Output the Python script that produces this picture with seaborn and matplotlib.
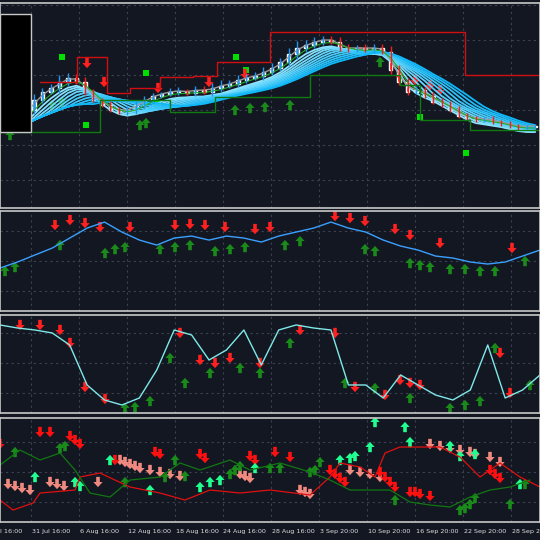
import numpy as np
import pandas as pd
import matplotlib
matplotlib.use("Agg")
import matplotlib.pyplot as plt
from matplotlib.path import Path
import seaborn as sns

sns.set_theme(style="dark")
plt.rcParams['font.family'] = ['DejaVu Sans']

BG = '#131722'
# ---------------- data ----------------
closes = [75, 78, 82, 90, 100, 108, 112, 118, 122, 118, 108, 100, 95, 90, 88, 90,
          95, 100, 104, 106, 108, 108, 107, 110, 108, 112, 114, 116, 120, 122, 124, 128,
          132, 138, 146, 152, 155, 158, 160, 158, 152, 150, 152, 150, 152, 148, 130, 118,
          108, 110, 104, 98, 96, 90, 84, 82, 80, 80, 78, 76, 74, 72, 73, 74]
wicks = [4, 6, 5, 8, 10, 7, 6, 12, 9, 6, 8, 5, 4, 6, 5, 7,
         9, 6, 5, 4, 6, 8, 5, 7, 6, 9, 10, 6, 8, 7, 6, 9,
         8, 7, 10, 12, 9, 8, 7, 6, 8, 6, 5, 6, 7, 6, 10, 8,
         7, 6, 5, 6, 7, 5, 6, 5, 4, 5, 6, 4, 5, 4, 3, 4]
red_step_x = [40, 77, 107, 130, 160, 193, 217, 253, 270, 330, 465, 475, 540]
red_step_y = [118, 143, 107, 112, 123, 124, 138, 138, 168, 168, 125, 125, 125]
green_step_x = [0, 100, 170, 215, 300, 310, 400, 420, 470, 540]
green_step_y = [68, 100, 88, 103, 103, 125, 115, 80, 70, 70]
squares_x = [62, 86, 146, 158, 236, 246, 420, 466]
squares_y = [143, 75, 127, 97, 143, 130, 83, 47]
p1_down_x = [87, 104, 158, 209, 245, 360, 400, 415, 430, 440]
p1_down_y = [137, 118, 112, 118, 126, 148, 125, 120, 115, 110]
p1_up_x = [10, 52, 62, 140, 146, 235, 250, 265, 290, 380]
p1_up_y = [65, 95, 98, 75, 77, 90, 92, 93, 95, 138]

p2_x = list(np.linspace(0, 540, 32))
p2_line = [43, 49, 56, 63, 73, 83, 89, 79, 71, 66, 73, 75, 71, 75, 73, 69,
           75, 79, 83, 89, 83, 79, 71, 65, 61, 55, 53, 49, 47, 49, 55, 61]
p2_down_x = [55, 70, 85, 100, 130, 175, 190, 205, 225, 255, 270, 335, 350, 365, 395, 410, 440, 512]
p2_down_y = [86, 91, 88, 84, 84, 86, 87, 86, 84, 82, 84, 95, 93, 90, 82, 76, 68, 63]
p2_up_x = [5, 15, 60, 105, 115, 125, 160, 175, 190, 215, 230, 245, 285, 300, 365, 375, 410, 420, 430, 450, 465, 480, 495, 525]
p2_up_y = [40, 44, 66, 58, 62, 64, 62, 64, 66, 60, 62, 64, 66, 70, 62, 60, 48, 46, 44, 42, 42, 40, 40, 50]

p3_x = list(np.linspace(0, 540, 32))
p3_line = [88, 85, 83, 80, 68, 28, 13, 8, 15, 43, 83, 78, 53, 63, 83, 48,
           83, 88, 85, 83, 28, 28, 15, 38, 28, 18, 13, 23, 68, 15, 23, 38]
p3_down_x = [20, 40, 60, 70, 85, 105, 180, 200, 215, 230, 260, 300, 335, 355, 385, 400, 410, 420, 500, 510]
p3_down_y = [88, 88, 83, 70, 26, 14, 80, 53, 50, 55, 50, 83, 80, 26, 18, 33, 30, 28, 60, 20]
p3_up_x = [125, 135, 150, 170, 185, 210, 240, 260, 290, 345, 375, 410, 450, 465, 480, 495, 530]
p3_up_y = [5, 6, 12, 55, 30, 40, 45, 40, 70, 30, 25, 15, 5, 8, 12, 65, 28]

p4_rx = [0, 13, 33, 40, 75, 80, 100, 130, 160, 185, 210, 240, 270, 310, 330, 340, 360, 375,
         385, 400, 420, 440, 460, 480, 500, 520, 540]
p4_red = [22, 12, 19, 29, 32, 45, 49, 35, 29, 22, 32, 29, 32, 27, 45, 59, 55, 45,
          69, 75, 75, 75, 65, 45, 59, 45, 35]
p4_gx = [0, 20, 40, 60, 75, 90, 110, 130, 160, 180, 200, 230, 250, 280, 310, 330, 350, 370,
         390, 410, 430, 450, 470, 490, 510, 530]
p4_green = [57, 72, 62, 69, 52, 29, 25, 42, 45, 59, 52, 62, 52, 59, 50, 42, 32, 32,
            32, 20, 17, 15, 25, 32, 35, 42]
p4_salmon_x = [8, 15, 22, 30, 50, 57, 64, 98, 120, 125, 130, 135, 140, 150, 160, 170, 180,
               240, 245, 250, 300, 305, 310, 350, 360, 370, 380, 430, 440, 450, 460, 470, 475, 490, 500]
p4_salmon_y = [38, 36, 34, 32, 40, 38, 36, 40, 62, 60, 58, 56, 54, 52, 50, 48, 46,
               48, 46, 44, 32, 30, 28, 52, 50, 48, 45, 78, 76, 74, 72, 70, 68, 65, 60]
p4_red_x = [0, 40, 50, 70, 75, 80, 115, 155, 160, 200, 205, 250, 255, 275, 290, 330, 335,
            340, 345, 380, 385, 390, 395, 410, 415, 420, 430, 490, 495, 500]
p4_red_y = [78, 90, 90, 86, 82, 78, 62, 70, 68, 68, 64, 66, 62, 70, 65, 52, 48, 44, 40,
            50, 45, 40, 35, 30, 30, 28, 26, 52, 48, 44]
p4_bg_x = [35, 75, 80, 110, 150, 200, 210, 220, 255, 340, 350, 355, 370, 375, 405, 410,
           450, 460, 475, 520]
p4_bg_y = [45, 40, 36, 62, 32, 35, 40, 42, 54, 62, 64, 66, 75, 100, 95, 80, 76, 66, 68, 38]
p4_dg_x = [15, 60, 65, 125, 165, 175, 185, 230, 235, 240, 270, 280, 310, 315, 320, 395,
           460, 465, 470, 475, 510, 525]
p4_dg_y = [70, 74, 76, 40, 45, 62, 46, 48, 52, 56, 54, 54, 50, 52, 60, 22, 12, 14, 18, 24, 18, 38]

ticks_x = [30.5 + 48 * k for k in range(11)]
tick_labels = ['31 Jul 16:00', '6 Aug 16:00', '12 Aug 16:00', '18 Aug 16:00', '24 Aug 16:00',
               '28 Aug 16:00', '3 Sep 20:00', '10 Sep 20:00', '16 Sep 20:00', '22 Sep 20:00',
               '28 Sep 20']

# ---------------- figure ----------------
fig = plt.figure(figsize=(5.4, 5.4), dpi=100, facecolor=BG)
rects = [(0.6148, 0.3796), (0.4241, 0.185), (0.2352, 0.1815), (0.0333, 0.1926)]
axes = []
for b, h in rects:
    ax = fig.add_axes([0, b, 1, h], facecolor=BG)
    ax.set_xlim(0, 540)
    for s in ax.spines.values():
        s.set_color('#c8c8c8'); s.set_linewidth(1.2)
    ax.set_xticks(ticks_x)
    ax.grid(True, color='#3c4250', linestyle=(0, (2, 3)), linewidth=0.8)
    ax.tick_params(length=0, labelbottom=False, labelleft=False)
    axes.append(ax)

UP = Path([(-0.35, -1), (0.35, -1), (0.35, 0), (0.9, 0), (0, 1), (-0.9, 0), (-0.35, 0), (-0.35, -1)],
          [Path.MOVETO] + [Path.LINETO] * 6 + [Path.CLOSEPOLY])
DOWN = Path([(-0.35, 1), (0.35, 1), (0.35, 0), (0.9, 0), (0, -1), (-0.9, 0), (-0.35, 0), (-0.35, 1)],
            [Path.MOVETO] + [Path.LINETO] * 6 + [Path.CLOSEPOLY])
AS = 55

# ---- panel 1
ax = axes[0]
ax.set_ylim(-8, 197)
ax.set_yticks([20, 55, 90, 125, 160, 195])
xs = np.linspace(0, 535, len(closes))
opens = [closes[0] - 3] + closes[:-1]
df = pd.DataFrame({'x': xs, 'c': closes, 'o': opens, 'w': wicks})
s = pd.Series(closes, dtype=float)
cmap = sns.color_palette("blend:#8fe6ff,#10b8f8", 10)
for k, win in enumerate(range(3, 13)):
    ma = s.rolling(win, min_periods=1).mean() - 5
    sns.lineplot(x=xs, y=ma.values, ax=ax, color=cmap[k], linewidth=1.3, legend=False)
sns.lineplot(x=xs, y=(s.rolling(2, min_periods=1).mean() + 1).values, ax=ax, color='#9a9a9a', lw=1, legend=False)
sns.lineplot(x=xs, y=(s.rolling(3, min_periods=1).mean() - 1).values, ax=ax, color='#22aa22', lw=0.8, legend=False)
for _, r in df.iterrows():
    col = '#2196f3' if r.c >= r.o else '#ff1a1a'
    lo, hi = min(r.o, r.c), max(r.o, r.c)
    ax.vlines(r.x, lo - r.w * 0.4, hi + r.w * 0.6, color=col, lw=1)
    ax.bar(r.x, max(hi - lo, 1.5), bottom=lo, width=3.5, color=col)
ax.step(red_step_x, red_step_y, where='post', color='#d01010', lw=1)
ax.step(green_step_x, green_step_y, where='post', color='#107a10', lw=1)
sns.scatterplot(x=squares_x, y=squares_y, ax=ax, marker='s', s=14, color='#00e000', edgecolor='none')
sns.scatterplot(x=p1_down_x, y=p1_down_y, ax=ax, marker=DOWN, s=AS, color='#ff2020', edgecolor='none')
sns.scatterplot(x=p1_up_x, y=p1_up_y, ax=ax, marker=UP, s=AS, color='#1a8a1a', edgecolor='none')
ax.add_patch(plt.Rectangle((0, 200 - 132), 31, 118, facecolor='black', edgecolor='#c8c8c8', lw=1, zorder=10))

# ---- panel 2
ax = axes[1]
ax.set_ylim(0, 100)
ax.set_yticks([20, 50, 80])
sns.lineplot(x=p2_x, y=p2_line, ax=ax, color='#3aa0ff', lw=1, legend=False)
sns.scatterplot(x=p2_down_x, y=p2_down_y, ax=ax, marker=DOWN, s=AS, color='#ff2020', edgecolor='none')
sns.scatterplot(x=p2_up_x, y=p2_up_y, ax=ax, marker=UP, s=AS, color='#1a8a1a', edgecolor='none')

# ---- panel 3
ax = axes[2]
ax.set_ylim(0, 98)
ax.set_yticks([20, 50, 80])
sns.lineplot(x=p3_x, y=p3_line, ax=ax, color='#7fe8e8', lw=1, legend=False)
sns.scatterplot(x=p3_down_x, y=p3_down_y, ax=ax, marker=DOWN, s=AS, color='#ff2020', edgecolor='none')
sns.scatterplot(x=p3_up_x, y=p3_up_y, ax=ax, marker=UP, s=AS, color='#1a8a1a', edgecolor='none')

# ---- panel 4
ax = axes[3]
ax.set_ylim(0, 104)
ax.set_yticks([20, 50, 80])
sns.lineplot(x=p4_rx, y=p4_red, ax=ax, color='#e01010', lw=0.9, legend=False)
sns.lineplot(x=p4_gx, y=p4_green, ax=ax, color='#117711', lw=0.9, legend=False)
sns.scatterplot(x=p4_salmon_x, y=p4_salmon_y, ax=ax, marker=DOWN, s=AS, color='#f08a80', edgecolor='none')
sns.scatterplot(x=p4_red_x, y=p4_red_y, ax=ax, marker=DOWN, s=AS, color='#ff1010', edgecolor='none')
sns.scatterplot(x=p4_bg_x, y=p4_bg_y, ax=ax, marker=UP, s=AS, color='#20ff90', edgecolor='none')
sns.scatterplot(x=p4_dg_x, y=p4_dg_y, ax=ax, marker=UP, s=AS, color='#1a8a1a', edgecolor='none')

for tx, lab in zip(ticks_x, tick_labels):
    fig.text((tx + 1) / 540, 0.016, lab, color='#e0e0e0', fontsize=4.6, ha='left', va='center')
fig.text(0.0, 0.016, 'l 16:00', color='#e0e0e0', fontsize=4.6, ha='left', va='center')

fig.savefig('out.png', dpi=100, facecolor=BG)
